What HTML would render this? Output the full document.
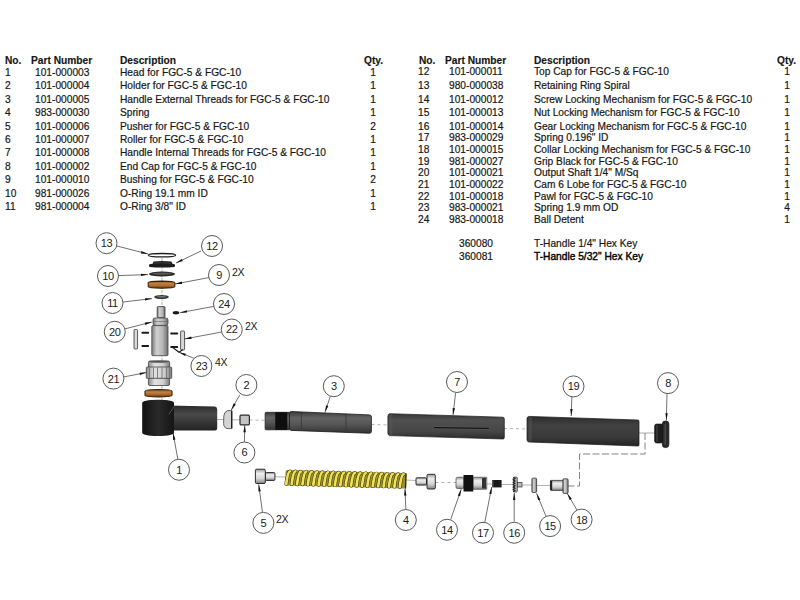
<!DOCTYPE html>
<html><head><meta charset="utf-8"><style>
html,body{margin:0;padding:0;background:#fff;}
body{width:800px;height:600px;position:relative;overflow:hidden;font-family:"Liberation Sans",sans-serif;}
.t{position:absolute;font-size:10.8px;line-height:10.8px;white-space:nowrap;color:#161616;-webkit-text-stroke:0.2px #161616;transform:scaleX(0.944);transform-origin:0 0;}
.b{font-weight:bold;-webkit-text-stroke:0.15px #111;}
.c{width:40px;text-align:center;transform-origin:20px 0;}
.d{color:#000;-webkit-text-stroke:0.4px #000;}
svg{position:absolute;left:0;top:0;}
</style></head><body>
<div class="t b" style="left:5px;top:54.99px">No.</div>
<div class="t b" style="left:31.3px;top:54.99px">Part Number</div>
<div class="t b" style="left:120px;top:54.99px">Description</div>
<div class="t b" style="left:363.5px;top:54.99px">Qty.</div>
<div class="t b" style="left:418.8px;top:54.99px">No.</div>
<div class="t b" style="left:445px;top:54.99px">Part Number</div>
<div class="t b" style="left:533.8px;top:54.99px">Description</div>
<div class="t b" style="left:777px;top:54.99px">Qty.</div>
<div class="t" style="left:5px;top:66.69px">1</div>
<div class="t" style="left:35px;top:66.69px">101-000003</div>
<div class="t" style="left:120px;top:66.69px">Head for FGC-5 &amp; FGC-10</div>
<div class="t c" style="left:353px;top:66.69px">1</div>
<div class="t" style="left:5px;top:80.39px">2</div>
<div class="t" style="left:35px;top:80.39px">101-000004</div>
<div class="t" style="left:120px;top:80.39px">Holder for FGC-5 &amp; FGC-10</div>
<div class="t c" style="left:353px;top:80.39px">1</div>
<div class="t" style="left:5px;top:93.59px">3</div>
<div class="t" style="left:35px;top:93.59px">101-000005</div>
<div class="t" style="left:120px;top:93.59px">Handle External Threads for FGC-5 &amp; FGC-10</div>
<div class="t c" style="left:353px;top:93.59px">1</div>
<div class="t" style="left:5px;top:107.09px">4</div>
<div class="t" style="left:35px;top:107.09px">983-000030</div>
<div class="t" style="left:120px;top:107.09px">Spring</div>
<div class="t c" style="left:353px;top:107.09px">1</div>
<div class="t" style="left:5px;top:120.79px">5</div>
<div class="t" style="left:35px;top:120.79px">101-000006</div>
<div class="t" style="left:120px;top:120.79px">Pusher for FGC-5 &amp; FGC-10</div>
<div class="t c" style="left:353px;top:120.79px">2</div>
<div class="t" style="left:5px;top:134.09px">6</div>
<div class="t" style="left:35px;top:134.09px">101-000007</div>
<div class="t" style="left:120px;top:134.09px">Roller for FGC-5 &amp; FGC-10</div>
<div class="t c" style="left:353px;top:134.09px">1</div>
<div class="t" style="left:5px;top:147.29px">7</div>
<div class="t" style="left:35px;top:147.29px">101-000008</div>
<div class="t" style="left:120px;top:147.29px">Handle Internal Threads for FGC-5 &amp; FGC-10</div>
<div class="t c" style="left:353px;top:147.29px">1</div>
<div class="t" style="left:5px;top:160.79px">8</div>
<div class="t" style="left:35px;top:160.79px">101-000002</div>
<div class="t" style="left:120px;top:160.79px">End Cap for FGC-5 &amp; FGC-10</div>
<div class="t c" style="left:353px;top:160.79px">1</div>
<div class="t" style="left:5px;top:173.79px">9</div>
<div class="t" style="left:35px;top:173.79px">101-000010</div>
<div class="t" style="left:120px;top:173.79px">Bushing for FGC-5 &amp; FGC-10</div>
<div class="t c" style="left:353px;top:173.79px">2</div>
<div class="t" style="left:5px;top:187.79px">10</div>
<div class="t" style="left:35px;top:187.79px">981-000026</div>
<div class="t" style="left:120px;top:187.79px">O-Ring 19.1 mm ID</div>
<div class="t c" style="left:353px;top:187.79px">1</div>
<div class="t" style="left:5px;top:200.79px">11</div>
<div class="t" style="left:35px;top:200.79px">981-000004</div>
<div class="t" style="left:120px;top:200.79px">O-Ring 3/8" ID</div>
<div class="t c" style="left:353px;top:200.79px">1</div>
<div class="t" style="left:418.1px;top:66.09px">12</div>
<div class="t" style="left:448.8px;top:66.09px">101-000011</div>
<div class="t" style="left:533.8px;top:66.09px">Top Cap for FGC-5 &amp; FGC-10</div>
<div class="t c" style="left:766.5px;top:66.09px">1</div>
<div class="t" style="left:418.1px;top:80.09px">13</div>
<div class="t" style="left:448.8px;top:80.09px">980-000038</div>
<div class="t" style="left:533.8px;top:80.09px">Retaining Ring Spiral</div>
<div class="t c" style="left:766.5px;top:80.09px">1</div>
<div class="t" style="left:418.1px;top:93.79px">14</div>
<div class="t" style="left:448.8px;top:93.79px">101-000012</div>
<div class="t" style="left:533.8px;top:93.79px">Screw Locking Mechanism for FGC-5 &amp; FGC-10</div>
<div class="t c" style="left:766.5px;top:93.79px">1</div>
<div class="t" style="left:418.1px;top:107.49px">15</div>
<div class="t" style="left:448.8px;top:107.49px">101-000013</div>
<div class="t" style="left:533.8px;top:107.49px">Nut Locking Mechanism for FGC-5 &amp; FGC-10</div>
<div class="t c" style="left:766.5px;top:107.49px">1</div>
<div class="t" style="left:418.1px;top:120.79px">16</div>
<div class="t" style="left:448.8px;top:120.79px">101-000014</div>
<div class="t" style="left:533.8px;top:120.79px">Gear Locking Mechanism for FGC-5 &amp; FGC-10</div>
<div class="t c" style="left:766.5px;top:120.79px">1</div>
<div class="t" style="left:418.1px;top:132.29px">17</div>
<div class="t" style="left:448.8px;top:132.29px">983-000029</div>
<div class="t" style="left:533.8px;top:132.29px">Spring 0.196" ID</div>
<div class="t c" style="left:766.5px;top:132.29px">1</div>
<div class="t" style="left:418.1px;top:143.79px">18</div>
<div class="t" style="left:448.8px;top:143.79px">101-000015</div>
<div class="t" style="left:533.8px;top:143.79px">Collar Locking Mechanism for FGC-5 &amp; FGC-10</div>
<div class="t c" style="left:766.5px;top:143.79px">1</div>
<div class="t" style="left:418.1px;top:155.59px">19</div>
<div class="t" style="left:448.8px;top:155.59px">981-000027</div>
<div class="t" style="left:533.8px;top:155.59px">Grip Black for FGC-5 &amp; FGC-10</div>
<div class="t c" style="left:766.5px;top:155.59px">1</div>
<div class="t" style="left:418.1px;top:167.29px">20</div>
<div class="t" style="left:448.8px;top:167.29px">101-000021</div>
<div class="t" style="left:533.8px;top:167.29px">Output Shaft 1/4" M/Sq</div>
<div class="t c" style="left:766.5px;top:167.29px">1</div>
<div class="t" style="left:418.1px;top:178.79px">21</div>
<div class="t" style="left:448.8px;top:178.79px">101-000022</div>
<div class="t" style="left:533.8px;top:178.79px">Cam 6 Lobe for FGC-5 &amp; FGC-10</div>
<div class="t c" style="left:766.5px;top:178.79px">1</div>
<div class="t" style="left:418.1px;top:190.59px">22</div>
<div class="t" style="left:448.8px;top:190.59px">101-000018</div>
<div class="t" style="left:533.8px;top:190.59px">Pawl for FGC-5 &amp; FGC-10</div>
<div class="t c" style="left:766.5px;top:190.59px">1</div>
<div class="t" style="left:418.1px;top:202.49px">23</div>
<div class="t" style="left:448.8px;top:202.49px">983-000021</div>
<div class="t" style="left:533.8px;top:202.49px">Spring 1.9 mm OD</div>
<div class="t c" style="left:766.5px;top:202.49px">4</div>
<div class="t" style="left:418.1px;top:214.39px">24</div>
<div class="t" style="left:448.8px;top:214.39px">983-000018</div>
<div class="t" style="left:533.8px;top:214.39px">Ball Detent</div>
<div class="t c" style="left:766.5px;top:214.39px">1</div>
<div class="t" style="left:459px;top:237.79px">360080</div>
<div class="t" style="left:533.8px;top:237.79px">T-Handle 1/4" Hex Key</div>
<div class="t" style="left:459px;top:251.29px">360081</div>
<div class="t d" style="left:533.8px;top:251.29px">T-Handle 5/32" Hex Key</div>
<svg width="800" height="600" viewBox="0 0 800 600">
<defs>
<linearGradient id="gl" x1="0" y1="0" x2="1" y2="0"><stop offset="0" stop-color="#7a7a7a"/><stop offset="0.3" stop-color="#cfcfcf"/><stop offset="0.65" stop-color="#b8b8b8"/><stop offset="1" stop-color="#6e6e6e"/></linearGradient>
<linearGradient id="glv" x1="0" y1="0" x2="0" y2="1"><stop offset="0" stop-color="#9a9a9a"/><stop offset="0.3" stop-color="#eeeeee"/><stop offset="0.65" stop-color="#d5d5d5"/><stop offset="1" stop-color="#808080"/></linearGradient>
<linearGradient id="gd" x1="0" y1="0" x2="0" y2="1"><stop offset="0" stop-color="#2a2a2a"/><stop offset="0.35" stop-color="#4a4a4a"/><stop offset="1" stop-color="#222"/></linearGradient>
<linearGradient id="gk" x1="0" y1="0" x2="1" y2="0"><stop offset="0" stop-color="#111"/><stop offset="0.5" stop-color="#2a2a2a"/><stop offset="1" stop-color="#151515"/></linearGradient>
<linearGradient id="go" x1="0" y1="0" x2="0" y2="1"><stop offset="0" stop-color="#8a5520"/><stop offset="0.35" stop-color="#c08040"/><stop offset="0.7" stop-color="#a8652a"/><stop offset="1" stop-color="#5a3510"/></linearGradient>
<linearGradient id="glc" x1="0" y1="0" x2="1" y2="0"><stop offset="0" stop-color="#888"/><stop offset="0.3" stop-color="#e2e2e2"/><stop offset="0.7" stop-color="#d0d0d0"/><stop offset="1" stop-color="#7a7a7a"/></linearGradient>
<linearGradient id="gp" x1="0" y1="0" x2="0" y2="1"><stop offset="0" stop-color="#3a3a3a"/><stop offset="0.3" stop-color="#636363"/><stop offset="0.6" stop-color="#555"/><stop offset="1" stop-color="#333"/></linearGradient>
<linearGradient id="gp7" x1="0" y1="0" x2="0" y2="1"><stop offset="0" stop-color="#353535"/><stop offset="0.25" stop-color="#505050"/><stop offset="0.7" stop-color="#464646"/><stop offset="1" stop-color="#2c2c2c"/></linearGradient>
<linearGradient id="gp19" x1="0" y1="0" x2="0" y2="1"><stop offset="0" stop-color="#2c2c2c"/><stop offset="0.3" stop-color="#414141"/><stop offset="0.7" stop-color="#3a3a3a"/><stop offset="1" stop-color="#242424"/></linearGradient>
</defs>
<g stroke="#808080" stroke-width="0.6" fill="none">
<line x1="162" y1="258" x2="162" y2="400" stroke-dasharray="3,1"/>
<line x1="217" y1="419.5" x2="224" y2="419.5"/>
<line x1="232" y1="419.8" x2="240" y2="419.8"/>
<line x1="249.5" y1="420" x2="265" y2="420.3" stroke-dasharray="3,3"/>
<line x1="371.5" y1="424.5" x2="388" y2="425" stroke-dasharray="3,3"/>
<line x1="504" y1="428.5" x2="527" y2="429" stroke-dasharray="3,3"/>
<line x1="0" y1="420.5" x2="264" y2="420.5" stroke-dasharray="4,4" opacity="0"/>
<polyline points="639,433 655,433" stroke="#777"/>
<polyline points="645,433 645,454 579.5,454 579.5,486 568,486" stroke-dasharray="7,2.5" stroke="#666" stroke-width="0.8"/>
<line x1="275" y1="476.7" x2="285.5" y2="477"/>
<line x1="406" y1="480" x2="416" y2="480.5"/>
<line x1="435.5" y1="482.5" x2="456" y2="482.5" stroke-dasharray="3,3"/>
<line x1="486.7" y1="484" x2="492" y2="484"/>
<line x1="501.7" y1="484.5" x2="513" y2="484.5"/>
<line x1="522" y1="485" x2="532" y2="485"/>
<line x1="536.6" y1="485.5" x2="550.6" y2="485.5"/>
</g>
<ellipse cx="162" cy="255.2" rx="13.6" ry="1.7" fill="#fff" stroke="#1a1a1a" stroke-width="1.3"/>
<path d="M152.6,263.8 L153.6,261.6 Q162,260.6 171.4,261.6 L172.4,263.8 L174.6,264.2 Q175.6,265.8 174.5,267 Q162,268.2 149.5,267 Q148.5,265.8 149.4,264.2Z" fill="#1c1c1c"/>
<path d="M154,263.2 Q162,262.2 171,263.2" stroke="#555" stroke-width="0.6" fill="none"/>
<ellipse cx="162" cy="274" rx="13" ry="2.6" fill="#2a2a2a"/>
<ellipse cx="162" cy="273.6" rx="9.5" ry="1.1" fill="#555"/>
<path d="M148.2,282.6 Q148.2,281.3 161.5,281.1 Q174.8,281.3 174.8,282.6 L174.8,286.8 Q174.8,288.1 161.5,288.3 Q148.2,288.1 148.2,286.8Z" fill="url(#go)" stroke="#3a2208" stroke-width="1.1"/>
<ellipse cx="161.5" cy="297" rx="7.4" ry="2" fill="#3a3a3a"/>
<ellipse cx="161.5" cy="296.8" rx="4.5" ry="0.8" fill="#777"/>
<ellipse cx="176" cy="312.8" rx="3.3" ry="1.7" fill="#1a1a1a"/>
<rect x="157.2" y="306.6" width="7.8" height="11" rx="1" fill="url(#gl)" stroke="#333" stroke-width="0.8"/>
<rect x="153" y="318" width="15" height="7.4" rx="2" fill="url(#gl)" stroke="#444" stroke-width="0.8"/>
<line x1="153.5" y1="321.5" x2="167.5" y2="321.5" stroke="#666" stroke-width="0.6"/>
<rect x="151.8" y="325.6" width="16.2" height="30.1" rx="1" fill="url(#gl)" stroke="#444" stroke-width="0.8"/>
<rect x="134" y="329.5" width="3.6" height="19.5" rx="1" fill="#d8d8d8" stroke="#333" stroke-width="0.8"/>
<rect x="180.6" y="331" width="4" height="19" rx="1" fill="#d8d8d8" stroke="#333" stroke-width="0.8"/>
<line x1="142.4" y1="332.7" x2="148.2" y2="332.7" stroke="#1a1a1a" stroke-width="2" stroke-linecap="round"/>
<line x1="142.4" y1="345.9" x2="148.2" y2="345.9" stroke="#1a1a1a" stroke-width="2" stroke-linecap="round"/>
<line x1="171.2" y1="333.4" x2="177.2" y2="333.4" stroke="#1a1a1a" stroke-width="2" stroke-linecap="round"/>
<line x1="171.2" y1="347" x2="177.2" y2="347" stroke="#1a1a1a" stroke-width="2" stroke-linecap="round"/>
<rect x="148.4" y="361" width="21.2" height="6.5" rx="1.5" fill="url(#glc)" stroke="#444" stroke-width="0.8"/>
<ellipse cx="159" cy="361.6" rx="10" ry="1.2" fill="#555"/>
<rect x="146.3" y="367" width="25.4" height="11.5" rx="1" fill="url(#glc)" stroke="#444" stroke-width="0.8"/>
<line x1="149.5" y1="367.5" x2="149.5" y2="378" stroke="#777" stroke-width="0.9"/>
<line x1="153.5" y1="367.5" x2="153.5" y2="378" stroke="#777" stroke-width="0.9"/>
<line x1="157.5" y1="367.5" x2="157.5" y2="378" stroke="#777" stroke-width="0.9"/>
<line x1="162" y1="367.5" x2="162" y2="378" stroke="#777" stroke-width="0.9"/>
<line x1="166.5" y1="367.5" x2="166.5" y2="378" stroke="#777" stroke-width="0.9"/>
<line x1="169.5" y1="367.5" x2="169.5" y2="378" stroke="#777" stroke-width="0.9"/>
<rect x="148.4" y="378.3" width="21.2" height="7.2" rx="1.5" fill="url(#glc)" stroke="#444" stroke-width="0.8"/>
<path d="M145,391 Q145,389.7 158.5,389.5 Q172,389.7 172,391 L172,395.3 Q172,396.8 158.5,397 Q145,396.8 145,395.3Z" fill="url(#go)" stroke="#3a2208" stroke-width="1.1"/>
<path d="M168,405.6 L215,406.5 Q217.2,406.8 217.2,409.5 L217.2,428 Q217.2,430.6 215,430.6 L168,430.5Z" fill="url(#gd)"/>
<path d="M142.2,403 Q142.2,400 158,399.8 Q174,400 174,403 L174,432.5 Q174,435.8 158,436 Q142.2,435.8 142.2,432.5Z" fill="url(#gk)"/>
<path d="M174.5,406 L168.8,414.5" fill="none" stroke="#666" stroke-width="0.7"/>
<path d="M232,410.6 L227.5,410.6 Q224,412 223.8,416 L223.6,423.5 Q223.8,428.5 228,428.6 L232,428.6Z" fill="#d4d4d4" stroke="#444" stroke-width="0.8"/>
<line x1="231.6" y1="411" x2="231.6" y2="428.2" stroke="#222" stroke-width="1.2"/>
<rect x="240" y="415.2" width="9.4" height="9.6" rx="1" fill="#c4c4c4" stroke="#2a2a2a" stroke-width="1.2"/>
<rect x="265.1" y="412.3" width="25" height="17.5" rx="1" fill="url(#gp)" stroke="#1a1a1a" stroke-width="0.7"/>
<rect x="275.25" y="412.3" width="12" height="17.5" fill="#0e0e0e"/>
<path d="M291,411.5 L369.5,414.9 Q371.4,415 371.4,417 L371.4,431.5 Q371.4,433.3 369.5,433.25 L291,430.4 Q289.5,430 289.5,428 L289.5,414 Q289.5,411.5 291,411.5Z" fill="url(#gp)" stroke="#1a1a1a" stroke-width="0.8"/>
<line x1="301.4" y1="412" x2="301.4" y2="431" stroke="#333" stroke-width="0.7"/>
<line x1="346" y1="413.8" x2="346" y2="432.3" stroke="#333" stroke-width="0.7"/>
<path d="M389.5,413.7 L503,417.2 Q504.3,417.4 504.3,419 L504.3,437.5 Q504.3,439 503,439 L389.5,435.6 Q387.9,435 387.9,433 L387.9,416.5 Q387.9,414 389.5,413.7Z" fill="url(#gp7)" stroke="#1a1a1a" stroke-width="0.7"/>
<path d="M389,414.5 L392.5,414.6 L392.5,435.5 L389,435.2" fill="#555" opacity="0.5"/>
<line x1="434.3" y1="427.6" x2="488.6" y2="428.4" stroke="#5a5a5a" stroke-width="2.6" stroke-linecap="round"/>
<line x1="434.3" y1="427.6" x2="488.6" y2="428.4" stroke="#111" stroke-width="1.4" stroke-linecap="round"/>
<path d="M528.8,416.4 L638,420 Q639,420.2 639,421.5 L639,444.8 Q639,446 638,446 L528.8,442 Q527,441.5 527,439.5 L527,419 Q527,416.6 528.8,416.4Z" fill="url(#gp19)" stroke="#141414" stroke-width="0.7"/>
<path d="M528.5,417 L532,417.2 L532,441.8 L528.5,441.5" fill="#555" opacity="0.45"/>
<rect x="654.6" y="424" width="8.4" height="19" rx="2" fill="#1e1e1e" stroke="#111" stroke-width="0.6"/>
<line x1="657" y1="425" x2="657" y2="442" stroke="#555" stroke-width="0.8"/>
<rect x="662.3" y="421" width="6.6" height="26.6" rx="3" fill="#2a2a2a" stroke="#111" stroke-width="0.7"/>
<line x1="665.2" y1="424" x2="665.2" y2="445" stroke="#555" stroke-width="1"/>
<rect x="265.3" y="472.6" width="9.6" height="7.8" rx="1" fill="url(#glv)" stroke="#1a1a1a" stroke-width="0.9"/>
<rect x="255.4" y="469.2" width="9.9" height="14.3" rx="1.2" fill="url(#glv)" stroke="#1a1a1a" stroke-width="0.9"/>
<g stroke-linecap="round" transform="rotate(1.45 285.4 477.8)">
<rect x="285.4" y="470" width="121.0" height="15.4" rx="2" fill="#9a8c30"/>
<path d="M286.40,484 C287.00,478 288.00,471.5 289.80,471.2" fill="none" stroke="#2a2508" stroke-width="3.7"/>
<path d="M286.40,484 C287.00,478 288.00,471.5 289.80,471.2" fill="none" stroke="#eee256" stroke-width="2.8"/>
<path d="M291.81,484 C292.41,478 293.41,471.5 295.21,471.2" fill="none" stroke="#2a2508" stroke-width="3.7"/>
<path d="M291.81,484 C292.41,478 293.41,471.5 295.21,471.2" fill="none" stroke="#eee256" stroke-width="2.8"/>
<path d="M297.22,484 C297.82,478 298.82,471.5 300.62,471.2" fill="none" stroke="#2a2508" stroke-width="3.7"/>
<path d="M297.22,484 C297.82,478 298.82,471.5 300.62,471.2" fill="none" stroke="#eee256" stroke-width="2.8"/>
<path d="M302.63,484 C303.23,478 304.23,471.5 306.03,471.2" fill="none" stroke="#2a2508" stroke-width="3.7"/>
<path d="M302.63,484 C303.23,478 304.23,471.5 306.03,471.2" fill="none" stroke="#eee256" stroke-width="2.8"/>
<path d="M308.04,484 C308.64,478 309.64,471.5 311.44,471.2" fill="none" stroke="#2a2508" stroke-width="3.7"/>
<path d="M308.04,484 C308.64,478 309.64,471.5 311.44,471.2" fill="none" stroke="#eee256" stroke-width="2.8"/>
<path d="M313.45,484 C314.05,478 315.05,471.5 316.85,471.2" fill="none" stroke="#2a2508" stroke-width="3.7"/>
<path d="M313.45,484 C314.05,478 315.05,471.5 316.85,471.2" fill="none" stroke="#eee256" stroke-width="2.8"/>
<path d="M318.85,484 C319.45,478 320.45,471.5 322.25,471.2" fill="none" stroke="#2a2508" stroke-width="3.7"/>
<path d="M318.85,484 C319.45,478 320.45,471.5 322.25,471.2" fill="none" stroke="#eee256" stroke-width="2.8"/>
<path d="M324.26,484 C324.86,478 325.86,471.5 327.66,471.2" fill="none" stroke="#2a2508" stroke-width="3.7"/>
<path d="M324.26,484 C324.86,478 325.86,471.5 327.66,471.2" fill="none" stroke="#eee256" stroke-width="2.8"/>
<path d="M329.67,484 C330.27,478 331.27,471.5 333.07,471.2" fill="none" stroke="#2a2508" stroke-width="3.7"/>
<path d="M329.67,484 C330.27,478 331.27,471.5 333.07,471.2" fill="none" stroke="#eee256" stroke-width="2.8"/>
<path d="M335.08,484 C335.68,478 336.68,471.5 338.48,471.2" fill="none" stroke="#2a2508" stroke-width="3.7"/>
<path d="M335.08,484 C335.68,478 336.68,471.5 338.48,471.2" fill="none" stroke="#eee256" stroke-width="2.8"/>
<path d="M340.49,484 C341.09,478 342.09,471.5 343.89,471.2" fill="none" stroke="#2a2508" stroke-width="3.7"/>
<path d="M340.49,484 C341.09,478 342.09,471.5 343.89,471.2" fill="none" stroke="#eee256" stroke-width="2.8"/>
<path d="M345.90,484 C346.50,478 347.50,471.5 349.30,471.2" fill="none" stroke="#2a2508" stroke-width="3.7"/>
<path d="M345.90,484 C346.50,478 347.50,471.5 349.30,471.2" fill="none" stroke="#eee256" stroke-width="2.8"/>
<path d="M351.31,484 C351.91,478 352.91,471.5 354.71,471.2" fill="none" stroke="#2a2508" stroke-width="3.7"/>
<path d="M351.31,484 C351.91,478 352.91,471.5 354.71,471.2" fill="none" stroke="#eee256" stroke-width="2.8"/>
<path d="M356.72,484 C357.32,478 358.32,471.5 360.12,471.2" fill="none" stroke="#2a2508" stroke-width="3.7"/>
<path d="M356.72,484 C357.32,478 358.32,471.5 360.12,471.2" fill="none" stroke="#eee256" stroke-width="2.8"/>
<path d="M362.13,484 C362.73,478 363.73,471.5 365.53,471.2" fill="none" stroke="#2a2508" stroke-width="3.7"/>
<path d="M362.13,484 C362.73,478 363.73,471.5 365.53,471.2" fill="none" stroke="#eee256" stroke-width="2.8"/>
<path d="M367.54,484 C368.14,478 369.14,471.5 370.94,471.2" fill="none" stroke="#2a2508" stroke-width="3.7"/>
<path d="M367.54,484 C368.14,478 369.14,471.5 370.94,471.2" fill="none" stroke="#eee256" stroke-width="2.8"/>
<path d="M372.95,484 C373.55,478 374.55,471.5 376.35,471.2" fill="none" stroke="#2a2508" stroke-width="3.7"/>
<path d="M372.95,484 C373.55,478 374.55,471.5 376.35,471.2" fill="none" stroke="#eee256" stroke-width="2.8"/>
<path d="M378.35,484 C378.95,478 379.95,471.5 381.75,471.2" fill="none" stroke="#2a2508" stroke-width="3.7"/>
<path d="M378.35,484 C378.95,478 379.95,471.5 381.75,471.2" fill="none" stroke="#eee256" stroke-width="2.8"/>
<path d="M383.76,484 C384.36,478 385.36,471.5 387.16,471.2" fill="none" stroke="#2a2508" stroke-width="3.7"/>
<path d="M383.76,484 C384.36,478 385.36,471.5 387.16,471.2" fill="none" stroke="#eee256" stroke-width="2.8"/>
<path d="M389.17,484 C389.77,478 390.77,471.5 392.57,471.2" fill="none" stroke="#2a2508" stroke-width="3.7"/>
<path d="M389.17,484 C389.77,478 390.77,471.5 392.57,471.2" fill="none" stroke="#eee256" stroke-width="2.8"/>
<path d="M394.58,484 C395.18,478 396.18,471.5 397.98,471.2" fill="none" stroke="#2a2508" stroke-width="3.7"/>
<path d="M394.58,484 C395.18,478 396.18,471.5 397.98,471.2" fill="none" stroke="#eee256" stroke-width="2.8"/>
<path d="M399.99,484 C400.59,478 401.59,471.5 403.39,471.2" fill="none" stroke="#2a2508" stroke-width="3.7"/>
<path d="M399.99,484 C400.59,478 401.59,471.5 403.39,471.2" fill="none" stroke="#eee256" stroke-width="2.8"/>
<line x1="405.79999999999995" y1="470.5" x2="405.79999999999995" y2="485" stroke="#2a2508" stroke-width="1.2"/>
</g>
<rect x="416" y="477.8" width="10.5" height="7.3" rx="1" fill="url(#glv)" stroke="#1a1a1a" stroke-width="0.9"/>
<rect x="427" y="474.3" width="8.3" height="14.7" rx="1.2" fill="url(#glv)" stroke="#1a1a1a" stroke-width="0.9"/>
<rect x="456" y="477.25" width="8" height="11.25" rx="1.5" fill="url(#glv)" stroke="#444" stroke-width="0.7"/>
<rect x="473" y="477.25" width="13.75" height="12" rx="0.5" fill="url(#glv)" stroke="#444" stroke-width="0.7"/>
<rect x="482" y="478" width="4" height="10.5" fill="#333"/>
<rect x="463.5" y="475" width="9.75" height="16.5" fill="#111"/>
<rect x="492.2" y="480" width="9.4" height="7.4" fill="#1a1a1a"/>
<line x1="493" y1="480.5" x2="493" y2="487" stroke="#666" stroke-width="0.8"/>
<rect x="513.3" y="477" width="4" height="15" rx="1" fill="#b0b0b0" stroke="#333" stroke-width="0.7"/>
<path d="M513.3,477.5 L515,478.6 L513.3,479.8 L515,481 L513.3,482.2 L515,483.4 L513.3,484.6 L515,485.8 L513.3,487 L515,488.2 L513.3,489.4 L515,490.6 L513.3,491.8" fill="none" stroke="#1a1a1a" stroke-width="1.1"/>
<rect x="517.5" y="482.5" width="4.5" height="4.5" fill="#bbb" stroke="#333" stroke-width="0.7"/>
<rect x="531.9" y="478.15" width="4.7" height="14.35" rx="1" fill="url(#gl)" stroke="#333" stroke-width="0.8"/>
<rect x="550.4" y="480.4" width="13" height="10" rx="1" fill="url(#glv)" stroke="#333" stroke-width="0.8"/>
<rect x="550.2" y="480.6" width="2" height="9.6" fill="#222"/>
<rect x="562.9" y="478.85" width="5.2" height="14.55" rx="1" fill="url(#gl)" stroke="#333" stroke-width="0.8"/>
<polyline points="172.5,347.4 179,352.3 182.8,349.6" fill="none" stroke="#111" stroke-width="1.1"/>
<line x1="117" y1="246" x2="148" y2="254" stroke="#333" stroke-width="0.7"/>
<path d="M148.00,254.00 L140.92,253.41 L141.52,251.09Z" fill="#111"/>
<line x1="201" y1="251" x2="176" y2="263" stroke="#333" stroke-width="0.7"/>
<path d="M176.00,263.00 L181.79,258.89 L182.83,261.05Z" fill="#111"/>
<line x1="118" y1="275.6" x2="148" y2="274.6" stroke="#333" stroke-width="0.7"/>
<path d="M148.00,274.60 L141.04,276.03 L140.96,273.63Z" fill="#111"/>
<line x1="210" y1="277.4" x2="175" y2="284" stroke="#333" stroke-width="0.7"/>
<path d="M175.00,284.00 L181.66,281.52 L182.10,283.88Z" fill="#111"/>
<line x1="123" y1="302" x2="152" y2="298.6" stroke="#333" stroke-width="0.7"/>
<path d="M152.00,298.60 L145.19,300.61 L144.91,298.22Z" fill="#111"/>
<line x1="213.8" y1="306.4" x2="180" y2="312.7" stroke="#333" stroke-width="0.7"/>
<path d="M180.00,312.70 L186.66,310.24 L187.10,312.60Z" fill="#111"/>
<line x1="124.9" y1="328.9" x2="151.9" y2="322" stroke="#333" stroke-width="0.7"/>
<path d="M151.90,322.00 L145.42,324.90 L144.82,322.57Z" fill="#111"/>
<line x1="221.6" y1="332" x2="184.5" y2="339" stroke="#333" stroke-width="0.7"/>
<path d="M184.50,339.00 L191.16,336.52 L191.60,338.88Z" fill="#111"/>
<line x1="195.75" y1="359" x2="179" y2="352.3" stroke="#333" stroke-width="0.7"/>
<path d="M179.00,352.30 L185.95,353.79 L185.05,356.01Z" fill="#111"/>
<line x1="123.9" y1="376.9" x2="146.6" y2="372.5" stroke="#333" stroke-width="0.7"/>
<path d="M146.60,372.50 L139.96,375.01 L139.50,372.65Z" fill="#111"/>
<line x1="239.7" y1="395" x2="231.3" y2="410" stroke="#333" stroke-width="0.7"/>
<path d="M231.30,410.00 L233.67,403.31 L235.77,404.48Z" fill="#111"/>
<line x1="177.8" y1="459" x2="173" y2="432.8" stroke="#333" stroke-width="0.7"/>
<path d="M173.00,432.80 L175.44,439.47 L173.08,439.90Z" fill="#111"/>
<line x1="244.4" y1="442" x2="244.75" y2="425.3" stroke="#333" stroke-width="0.7"/>
<path d="M244.75,425.30 L245.80,432.32 L243.40,432.27Z" fill="#111"/>
<line x1="330.25" y1="396.5" x2="325" y2="412.25" stroke="#333" stroke-width="0.7"/>
<path d="M325.00,412.25 L326.08,405.23 L328.35,405.99Z" fill="#111"/>
<line x1="455.6" y1="393" x2="453" y2="415" stroke="#333" stroke-width="0.7"/>
<path d="M453.00,415.00 L452.63,407.91 L455.01,408.19Z" fill="#111"/>
<line x1="571.9" y1="397" x2="571.2" y2="416" stroke="#333" stroke-width="0.7"/>
<path d="M571.20,416.00 L570.26,408.96 L572.66,409.05Z" fill="#111"/>
<line x1="667" y1="393.75" x2="666.4" y2="420.3" stroke="#333" stroke-width="0.7"/>
<path d="M666.40,420.30 L665.36,413.27 L667.76,413.33Z" fill="#111"/>
<line x1="262.5" y1="512.7" x2="258.7" y2="484.4" stroke="#333" stroke-width="0.7"/>
<path d="M258.70,484.40 L260.82,491.18 L258.44,491.50Z" fill="#111"/>
<line x1="405.8" y1="509" x2="405" y2="488.5" stroke="#333" stroke-width="0.7"/>
<path d="M405.00,488.50 L406.47,495.45 L404.07,495.54Z" fill="#111"/>
<line x1="450.75" y1="519.25" x2="461.25" y2="489.25" stroke="#333" stroke-width="0.7"/>
<path d="M461.25,489.25 L460.07,496.25 L457.80,495.46Z" fill="#111"/>
<line x1="484.8" y1="522.25" x2="491.7" y2="487" stroke="#333" stroke-width="0.7"/>
<path d="M491.70,487.00 L491.53,494.10 L489.18,493.64Z" fill="#111"/>
<line x1="514.2" y1="521.5" x2="514.2" y2="493" stroke="#333" stroke-width="0.7"/>
<path d="M514.20,493.00 L515.40,500.00 L513.00,500.00Z" fill="#111"/>
<line x1="545.9" y1="516.1" x2="536.6" y2="493.4" stroke="#333" stroke-width="0.7"/>
<path d="M536.60,493.40 L540.36,499.42 L538.14,500.33Z" fill="#111"/>
<line x1="576.9" y1="510" x2="567.25" y2="493.4" stroke="#333" stroke-width="0.7"/>
<path d="M567.25,493.40 L571.81,498.85 L569.73,500.05Z" fill="#111"/>
<circle cx="106.5" cy="243.2" r="10.5" fill="#fff" stroke="#5a5a5a" stroke-width="1"/>
<text x="106.5" y="247.1" font-family="Liberation Sans" font-size="11" letter-spacing="-0.4" text-anchor="middle" fill="#1a1a1a">13</text>
<circle cx="212" cy="246" r="10.5" fill="#fff" stroke="#5a5a5a" stroke-width="1"/>
<text x="212" y="249.9" font-family="Liberation Sans" font-size="11" letter-spacing="-0.4" text-anchor="middle" fill="#1a1a1a">12</text>
<circle cx="108" cy="276" r="10.5" fill="#fff" stroke="#5a5a5a" stroke-width="1"/>
<text x="108" y="279.9" font-family="Liberation Sans" font-size="11" letter-spacing="-0.4" text-anchor="middle" fill="#1a1a1a">10</text>
<circle cx="219" cy="275" r="10.5" fill="#fff" stroke="#5a5a5a" stroke-width="1"/>
<text x="219" y="278.9" font-family="Liberation Sans" font-size="11" letter-spacing="-0.4" text-anchor="middle" fill="#1a1a1a">9</text>
<circle cx="112.5" cy="303" r="10.5" fill="#fff" stroke="#5a5a5a" stroke-width="1"/>
<text x="112.5" y="306.9" font-family="Liberation Sans" font-size="11" letter-spacing="-0.4" text-anchor="middle" fill="#1a1a1a">11</text>
<circle cx="224" cy="304" r="10.5" fill="#fff" stroke="#5a5a5a" stroke-width="1"/>
<text x="224" y="307.9" font-family="Liberation Sans" font-size="11" letter-spacing="-0.4" text-anchor="middle" fill="#1a1a1a">24</text>
<circle cx="114.75" cy="331.8" r="10.5" fill="#fff" stroke="#5a5a5a" stroke-width="1"/>
<text x="114.75" y="335.7" font-family="Liberation Sans" font-size="11" letter-spacing="-0.4" text-anchor="middle" fill="#1a1a1a">20</text>
<circle cx="231.75" cy="329.5" r="10.5" fill="#fff" stroke="#5a5a5a" stroke-width="1"/>
<text x="231.75" y="333.4" font-family="Liberation Sans" font-size="11" letter-spacing="-0.4" text-anchor="middle" fill="#1a1a1a">22</text>
<circle cx="201.4" cy="366" r="10.5" fill="#fff" stroke="#5a5a5a" stroke-width="1"/>
<text x="201.4" y="369.9" font-family="Liberation Sans" font-size="11" letter-spacing="-0.4" text-anchor="middle" fill="#1a1a1a">23</text>
<circle cx="113.4" cy="378.6" r="10.5" fill="#fff" stroke="#5a5a5a" stroke-width="1"/>
<text x="113.4" y="382.5" font-family="Liberation Sans" font-size="11" letter-spacing="-0.4" text-anchor="middle" fill="#1a1a1a">21</text>
<circle cx="246.4" cy="385" r="10.5" fill="#fff" stroke="#5a5a5a" stroke-width="1"/>
<text x="246.4" y="388.9" font-family="Liberation Sans" font-size="11" letter-spacing="-0.4" text-anchor="middle" fill="#1a1a1a">2</text>
<circle cx="179" cy="469.75" r="10.5" fill="#fff" stroke="#5a5a5a" stroke-width="1"/>
<text x="179" y="473.65" font-family="Liberation Sans" font-size="11" letter-spacing="-0.4" text-anchor="middle" fill="#1a1a1a">1</text>
<circle cx="244.4" cy="452.5" r="10.5" fill="#fff" stroke="#5a5a5a" stroke-width="1"/>
<text x="244.4" y="456.4" font-family="Liberation Sans" font-size="11" letter-spacing="-0.4" text-anchor="middle" fill="#1a1a1a">6</text>
<circle cx="333.8" cy="386.2" r="10.5" fill="#fff" stroke="#5a5a5a" stroke-width="1"/>
<text x="333.8" y="390.09999999999997" font-family="Liberation Sans" font-size="11" letter-spacing="-0.4" text-anchor="middle" fill="#1a1a1a">3</text>
<circle cx="457" cy="382" r="10.5" fill="#fff" stroke="#5a5a5a" stroke-width="1"/>
<text x="457" y="385.9" font-family="Liberation Sans" font-size="11" letter-spacing="-0.4" text-anchor="middle" fill="#1a1a1a">7</text>
<circle cx="573.5" cy="386.4" r="10.5" fill="#fff" stroke="#5a5a5a" stroke-width="1"/>
<text x="573.5" y="390.29999999999995" font-family="Liberation Sans" font-size="11" letter-spacing="-0.4" text-anchor="middle" fill="#1a1a1a">19</text>
<circle cx="668" cy="383.1" r="10.5" fill="#fff" stroke="#5a5a5a" stroke-width="1"/>
<text x="668" y="387.0" font-family="Liberation Sans" font-size="11" letter-spacing="-0.4" text-anchor="middle" fill="#1a1a1a">8</text>
<circle cx="263.4" cy="522.9" r="10.5" fill="#fff" stroke="#5a5a5a" stroke-width="1"/>
<text x="263.4" y="526.8" font-family="Liberation Sans" font-size="11" letter-spacing="-0.4" text-anchor="middle" fill="#1a1a1a">5</text>
<circle cx="405.8" cy="520" r="10.5" fill="#fff" stroke="#5a5a5a" stroke-width="1"/>
<text x="405.8" y="523.9" font-family="Liberation Sans" font-size="11" letter-spacing="-0.4" text-anchor="middle" fill="#1a1a1a">4</text>
<circle cx="447" cy="529.75" r="10.5" fill="#fff" stroke="#5a5a5a" stroke-width="1"/>
<text x="447" y="533.65" font-family="Liberation Sans" font-size="11" letter-spacing="-0.4" text-anchor="middle" fill="#1a1a1a">14</text>
<circle cx="483" cy="532.75" r="10.5" fill="#fff" stroke="#5a5a5a" stroke-width="1"/>
<text x="483" y="536.65" font-family="Liberation Sans" font-size="11" letter-spacing="-0.4" text-anchor="middle" fill="#1a1a1a">17</text>
<circle cx="514.2" cy="532.75" r="10.5" fill="#fff" stroke="#5a5a5a" stroke-width="1"/>
<text x="514.2" y="536.65" font-family="Liberation Sans" font-size="11" letter-spacing="-0.4" text-anchor="middle" fill="#1a1a1a">16</text>
<circle cx="550.1" cy="526.1" r="10.5" fill="#fff" stroke="#5a5a5a" stroke-width="1"/>
<text x="550.1" y="530.0" font-family="Liberation Sans" font-size="11" letter-spacing="-0.4" text-anchor="middle" fill="#1a1a1a">15</text>
<circle cx="581.6" cy="519.6" r="10.5" fill="#fff" stroke="#5a5a5a" stroke-width="1"/>
<text x="581.6" y="523.5" font-family="Liberation Sans" font-size="11" letter-spacing="-0.4" text-anchor="middle" fill="#1a1a1a">18</text>
<text x="232" y="276.1" font-family="Liberation Sans" font-size="10.5" letter-spacing="-0.3" fill="#1a1a1a">2X</text>
<text x="245" y="330.20000000000005" font-family="Liberation Sans" font-size="10.5" letter-spacing="-0.3" fill="#1a1a1a">2X</text>
<text x="215" y="366.20000000000005" font-family="Liberation Sans" font-size="10.5" letter-spacing="-0.3" fill="#1a1a1a">4X</text>
<text x="276" y="523.2" font-family="Liberation Sans" font-size="10.5" letter-spacing="-0.3" fill="#1a1a1a">2X</text>
</svg>
</body></html>
